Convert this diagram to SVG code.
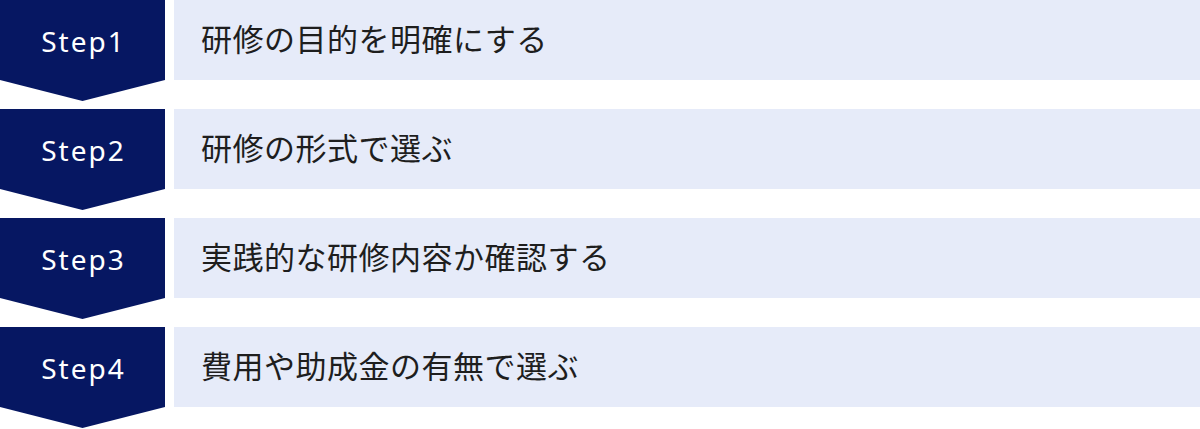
<svg xmlns="http://www.w3.org/2000/svg" width="1200" height="429" viewBox="0 0 1200 429">
<defs>
<style>
.step{fill:#061762;}
.box{fill:#e6ebf9;}
.sl{font-family:"Noto Sans","DejaVu Sans",sans-serif;font-size:28px;fill:#ffffff;text-anchor:middle;letter-spacing:2px;}
.tl{font-family:"Noto Sans CJK JP","Noto Sans",sans-serif;font-size:31px;fill:#1e1e1e;letter-spacing:0.5px;}
</style>
</defs>
<rect width="1200" height="429" fill="#ffffff"/>
<g id="step1">
<path class="step" d="M0,0H165V80L82.5,101L0,80Z"/>
<rect class="box" x="174" y="0" width="1026" height="80"/>
<text class="sl" x="83.5" y="51.5">Step1</text>
<text class="tl" x="201" y="50.5">研修の目的を明確にする</text>
</g>
<g id="step2">
<path class="step" d="M0,109H165V189L82.5,210L0,189Z"/>
<rect class="box" x="174" y="109" width="1026" height="80"/>
<text class="sl" x="83.5" y="160.5">Step2</text>
<text class="tl" x="201" y="159.5">研修の形式で選ぶ</text>
</g>
<g id="step3">
<path class="step" d="M0,218H165V298L82.5,319L0,298Z"/>
<rect class="box" x="174" y="218" width="1026" height="80"/>
<text class="sl" x="83.5" y="269.5">Step3</text>
<text class="tl" x="201" y="268.5">実践的な研修内容か確認する</text>
</g>
<g id="step4">
<path class="step" d="M0,327H165V407L82.5,428L0,407Z"/>
<rect class="box" x="174" y="327" width="1026" height="80"/>
<text class="sl" x="83.5" y="378.5">Step4</text>
<text class="tl" x="201" y="377.5">費用や助成金の有無で選ぶ</text>
</g>
<g id="connectors"></g>
</svg>
